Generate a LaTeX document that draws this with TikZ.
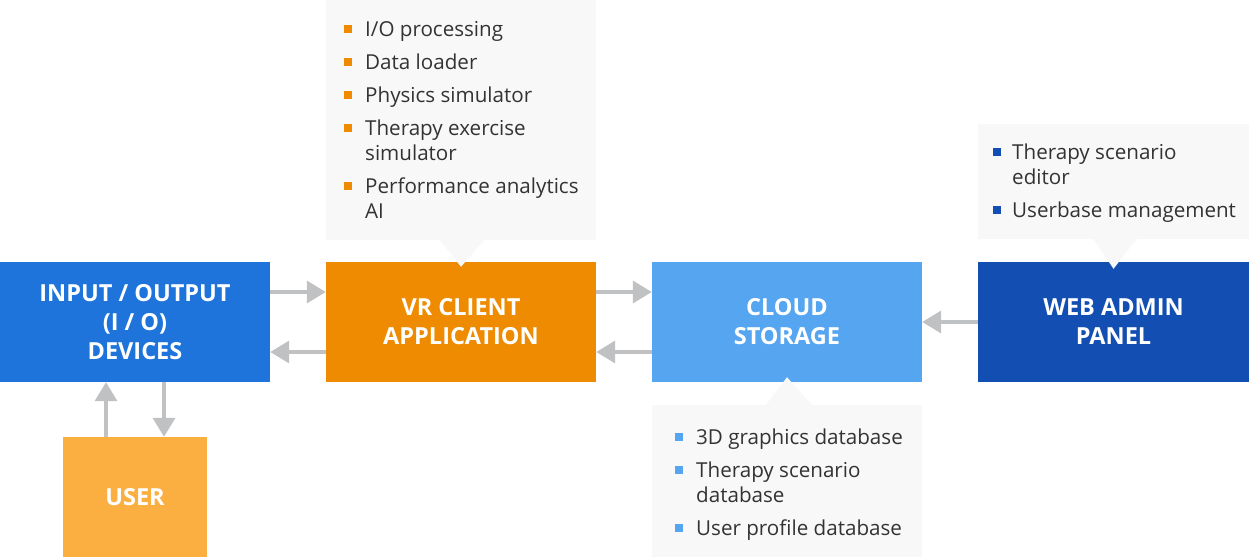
\documentclass[tikz,border=0pt]{standalone}
\usepackage{fontspec}
\setmainfont{Open Sans}
\usepackage{xcolor}
\usetikzlibrary{arrows.meta,positioning,calc}
\definecolor{ioblue}{HTML}{1E74DB}
\definecolor{vrorange}{HTML}{EE8B00}
\definecolor{cloudblue}{HTML}{55A5F0}
\definecolor{webblue}{HTML}{134FB2}
\definecolor{userorange}{HTML}{FBAF41}
\definecolor{notegray}{HTML}{F8F8F8}
\definecolor{arrowgray}{HTML}{C0C1C3}
\definecolor{textgray}{HTML}{333333}
\tikzset{
  block/.style={minimum width=270pt,minimum height=120pt,inner sep=0pt,
    align=center,text=white,font=\fontsize{23.5}{29}\selectfont\bfseries},
  note/.style={fill=notegray,inner sep=0pt},
  item/.style={anchor=base west,inner sep=0pt,align=left,text=textgray,
    font=\fontsize{20.6}{25}\selectfont},
  single/.style={},
  wrapped/.style={yshift=-25pt}
}

\begin{document}
\begin{tikzpicture}[x=1pt,y=-1pt,
  link/.style={-{Triangle[length=19pt,width=22pt]},draw=arrowgray,line width=3.5pt}]
\useasboundingbox (0,0) rectangle (1249,557);
% main blocks
\node[block,fill=ioblue] (io) at (135,322) {INPUT / OUTPUT\\(I / O)\\DEVICES};
\node[block,fill=vrorange] (vr) at (461,322) {VR CLIENT\\APPLICATION};
\node[block,fill=cloudblue] (cloud) at (787,322) {CLOUD\\STORAGE};
\node[block,fill=webblue,minimum width=271pt] (web) at (1113.5,322) {WEB ADMIN\\PANEL};
\node[block,fill=userorange,minimum width=144pt] (user) at (135,497) {USER};
% callouts
\node[note,minimum width=270pt,minimum height=240pt] (vrnote) at (461,120) {};
\fill[notegray] ($(vrnote.south)+(-21,0)$) -- ([yshift=-5pt]vr.north)
  -- ($(vrnote.south)+(23,0)$) -- cycle;
\node[note,minimum width=270pt,minimum height=152pt] (cloudnote) at (787,481) {};
\fill[notegray] ($(cloudnote.north)+(-21,0)$) -- ([yshift=5pt]cloud.south)
  -- ($(cloudnote.north)+(25,0)$) -- cycle;
\node[note,minimum width=271pt,minimum height=115pt] (webnote) at (1113.5,181.5) {};
\fill[notegray] ($(webnote.south)+(-20,0)$) -- ([yshift=-7pt]web.north)
  -- ($(webnote.south)+(23,0)$) -- cycle;
% lists
\foreach \y/\s/\t [count=\i] in {36/single/{I/O processing},69/single/{Data loader},
  102/single/{Physics simulator},135/wrapped/{Therapy exercise\\simulator},
  193/wrapped/{Performance analytics\\AI}} {
  \fill[vrorange] (344,\y-11) rectangle ++(8,8);
  \node[item,\s] (vritem\i) at (365,\y) {\t};
}
\foreach \y/\s/\t [count=\i] in {444/single/{3D graphics database},
  477/wrapped/{Therapy scenario\\database},535/single/{User profile database}} {
  \fill[cloudblue] (675,\y-11) rectangle ++(8,8);
  \node[item,\s] (clouditem\i) at (696,\y) {\t};
}
\foreach \y/\s/\t [count=\i] in {159/wrapped/{Therapy scenario\\editor},
  217/single/{Userbase management}} {
  \fill[webblue] (993,\y-11) rectangle ++(8,8);
  \node[item,\s] (webitem\i) at (1012,\y) {\t};
}
% connectors
\draw[link] ([yshift=30pt]io.east) -- ([yshift=30pt]vr.west);
\draw[link] ([yshift=-30pt]vr.west) -- ([yshift=-30pt]io.east);
\draw[link] ([yshift=30pt]vr.east) -- ([yshift=30pt]cloud.west);
\draw[link] ([yshift=-30pt]cloud.west) -- ([yshift=-30pt]vr.east);
\draw[link] (web.west) -- (cloud.east);
\draw[link] ([xshift=-29pt]user.north) -- ([xshift=-29pt]io.south);
\draw[link] ([xshift=29pt]io.south) -- ([xshift=29pt]user.north);
\end{tikzpicture}
\end{document}
